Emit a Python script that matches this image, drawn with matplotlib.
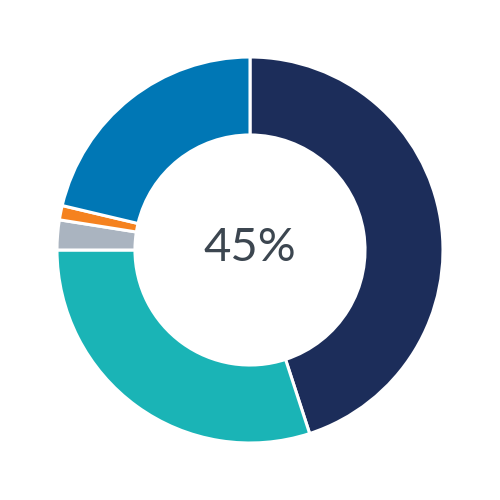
import matplotlib
matplotlib.use('Agg')
import matplotlib.pyplot as plt

# segment shares, clockwise from 12 o'clock
labels = ['Navy', 'Teal', 'Gray', 'Orange', 'Blue']
shares = [45, 30, 2.5, 1.2, 21.3]
colors = ['#1c2d5a', '#1ab4b6', '#aab4c0', '#f5821f', '#0077b5']
center_text = '45%'

fig = plt.figure(figsize=(5, 5), dpi=100)
ax = fig.add_axes([0, 0, 1, 1])

ax.pie(shares, colors=colors, startangle=90, counterclock=False,
       radius=1.0,
       wedgeprops=dict(width=0.404, edgecolor='white', linewidth=2.2))

ax.text(0, 0.01, center_text, ha='center', va='center', fontsize=34,
        color='#3c4650', family=['Lato', 'DejaVu Sans'], fontweight='normal')

lim = 250 / 193
ax.set_xlim(-lim, lim)
ax.set_ylim(-lim, lim)
ax.set_aspect('equal')
ax.axis('off')

fig.savefig('out.png', dpi=100, facecolor='white')
